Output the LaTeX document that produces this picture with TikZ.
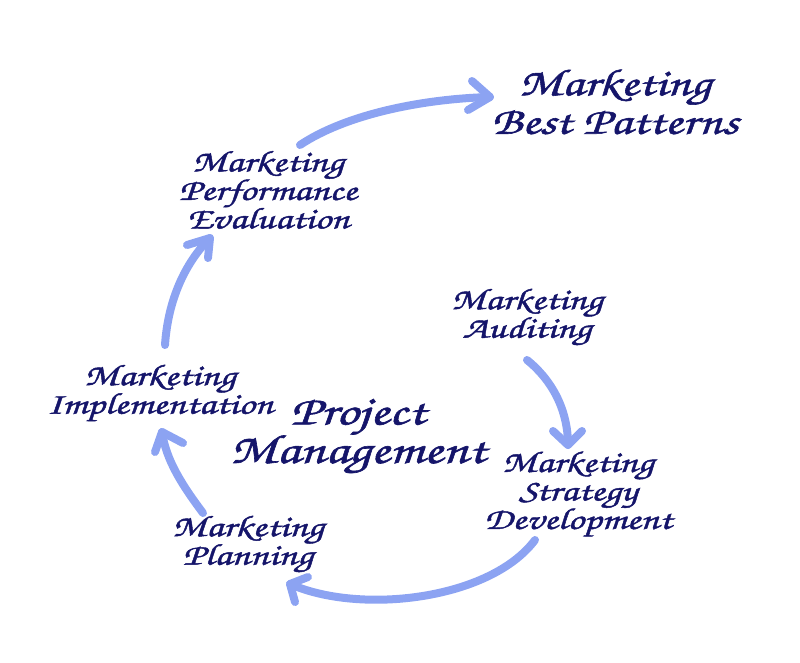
\documentclass[tikz,border=0pt]{standalone}
\usepackage{fontspec}
\newfontfamily\hand[FakeBold=1.5,FakeStretch=1.35]{texgyrechorus-mediumitalic.otf}
\tikzset{
  lbl/.style={text=txtc, align=center, inner sep=0pt, font=\hand\fontsize{30}{28.5}\selectfont},
  big/.style={lbl, font=\hand\fontsize{40}{38.5}\selectfont},
  arr/.style={draw=arrc, line width=8pt, line cap=round, line join=round},
}
\definecolor{txtc}{HTML}{15156A}
\definecolor{arrc}{HTML}{8CA3F2}
\begin{document}
\begin{tikzpicture}[x=1pt,y=-1pt]
\useasboundingbox (0,0) rectangle (800,662);
\node[big, font=\hand\fontsize{38}{38.5}\selectfont] (best) at (615,102) {Marketing\\Best Patterns};
\node[lbl] (perf) at (268,190) {Marketing\\Performance\\Evaluation};
\node[lbl] (aud) at (527,317) {Marketing\\Auditing};
\node[lbl] (impl) at (160,393) {Marketing\\Implementation};
\node[big, font=\hand\fontsize{41}{38.5}\selectfont] (pm) at (358,436) {Project\\Management};
\node[lbl] (strat) at (578,494) {Marketing\\Strategy\\Development};
\node[lbl] (plan) at (248,544) {Marketing\\Planning};
% arrow 1
\coordinate (a1s) at (300,145); \coordinate (a1t) at (490,97);
\coordinate (a1u) at (472,81); \coordinate (a1d) at (468,110);
\draw[arr] (a1s) .. controls (345,115) and (420,99) .. (a1t);
\draw[arr] (a1u) -- (a1t) -- (a1d);
% arrow 2
\coordinate (a2s) at (165,345); \coordinate (a2t) at (210,238);
\coordinate (a2l) at (187,245); \coordinate (a2r) at (208,258);
\draw[arr] (a2s) .. controls (168,300) and (185,263) .. (a2t);
\draw[arr] (a2l) -- (a2t) -- (a2r);
% arrow 3
\coordinate (a3s) at (527,360); \coordinate (a3t) at (568,445);
\coordinate (a3l) at (553,431); \coordinate (a3r) at (582,431);
\draw[arr] (a3s) .. controls (552,380) and (568,410) .. (a3t);
\draw[arr] (a3l) -- (a3t) -- (a3r);
% arrow 4
\coordinate (a4s) at (535,540); \coordinate (a4t) at (290,584);
\coordinate (a4u) at (308,577); \coordinate (a4d) at (295,602);
\draw[arr] (a4s) .. controls (490,600) and (360,615) .. (a4t);
\draw[arr] (a4u) -- (a4t) -- (a4d);
% arrow 5
\coordinate (a5s) at (203,513); \coordinate (a5t) at (162,432);
\coordinate (a5l) at (155,452); \coordinate (a5r) at (183,443);
\draw[arr] (a5s) .. controls (182,485) and (166,460) .. (a5t);
\draw[arr] (a5l) -- (a5t) -- (a5r);
\end{tikzpicture}
\end{document}
